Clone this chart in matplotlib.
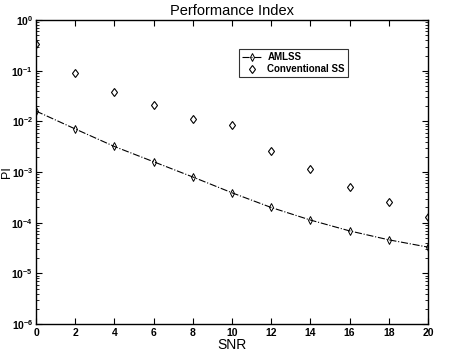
import matplotlib
matplotlib.use("Agg")
import matplotlib.pyplot as plt
from matplotlib.ticker import LogLocator, NullFormatter

plt.rcParams['font.family'] = ['Liberation Sans', 'DejaVu Sans']

snr = [0, 2, 4, 6, 8, 10, 12, 14, 16, 18, 20]
amlss = [0.016, 0.0071, 0.0032, 0.0016, 0.00080, 0.00039, 0.00020, 0.000113, 0.000069, 0.000046, 0.000033]
conv_ss = [0.34, 0.092, 0.038, 0.021, 0.011, 0.0085, 0.0026, 0.00115, 0.00051, 0.00026, 0.00013]
xticks = [0, 2, 4, 6, 8, 10, 12, 14, 16, 18, 20]

fig = plt.figure(figsize=(4.74, 3.53), dpi=100)
ax = fig.add_axes([0.076, 0.082, 0.827, 0.861])

ax.semilogy(snr, amlss, color='black', linestyle='-.', linewidth=0.8,
            marker='d', markersize=4, markerfacecolor='none', markeredgewidth=0.7,
            label='AMLSS')
ax.semilogy(snr, conv_ss, color='black', linestyle='none',
            marker='d', markersize=4.5, markerfacecolor='none', markeredgewidth=0.8,
            label='Conventional SS')

ax.set_xlim(0, 20)
ax.set_ylim(1e-6, 1)
ax.set_xticks(xticks)
ax.yaxis.set_major_locator(LogLocator(base=10, numticks=10))
ax.yaxis.set_minor_locator(LogLocator(base=10, subs=range(2, 10), numticks=10))
ax.yaxis.set_minor_formatter(NullFormatter())

ax.tick_params(direction='in', which='both', top=True, right=True, labelsize=7.5)
ax.tick_params(which='minor', labelleft=False, labelbottom=False)
ax.tick_params(axis='x', pad=3)
ax.tick_params(axis='y', pad=2)
ax.tick_params(which='major', length=4)
ax.tick_params(which='minor', length=2)
for lbl in ax.get_xticklabels() + ax.get_yticklabels():
    lbl.set_fontweight('bold')
for sp in ax.spines.values():
    sp.set_linewidth(1.0)

ax.set_title('Performance Index', fontsize=10.5, pad=4)
ax.set_xlabel('SNR', fontsize=10)
ax.xaxis.set_label_coords(0.5, -0.046)
ax.set_ylabel('PI', fontsize=9)
ax.yaxis.set_label_coords(-0.060, 0.5)

leg = ax.legend(loc='upper left', bbox_to_anchor=(0.506, 0.92), fontsize=7,
                frameon=True, fancybox=False, edgecolor='black',
                handlelength=2.0, borderpad=0.3, labelspacing=0.2,
                handletextpad=0.6)
leg.get_frame().set_linewidth(0.8)
for t in leg.get_texts():
    t.set_fontweight('bold')

fig.savefig('out.png', dpi=100)
